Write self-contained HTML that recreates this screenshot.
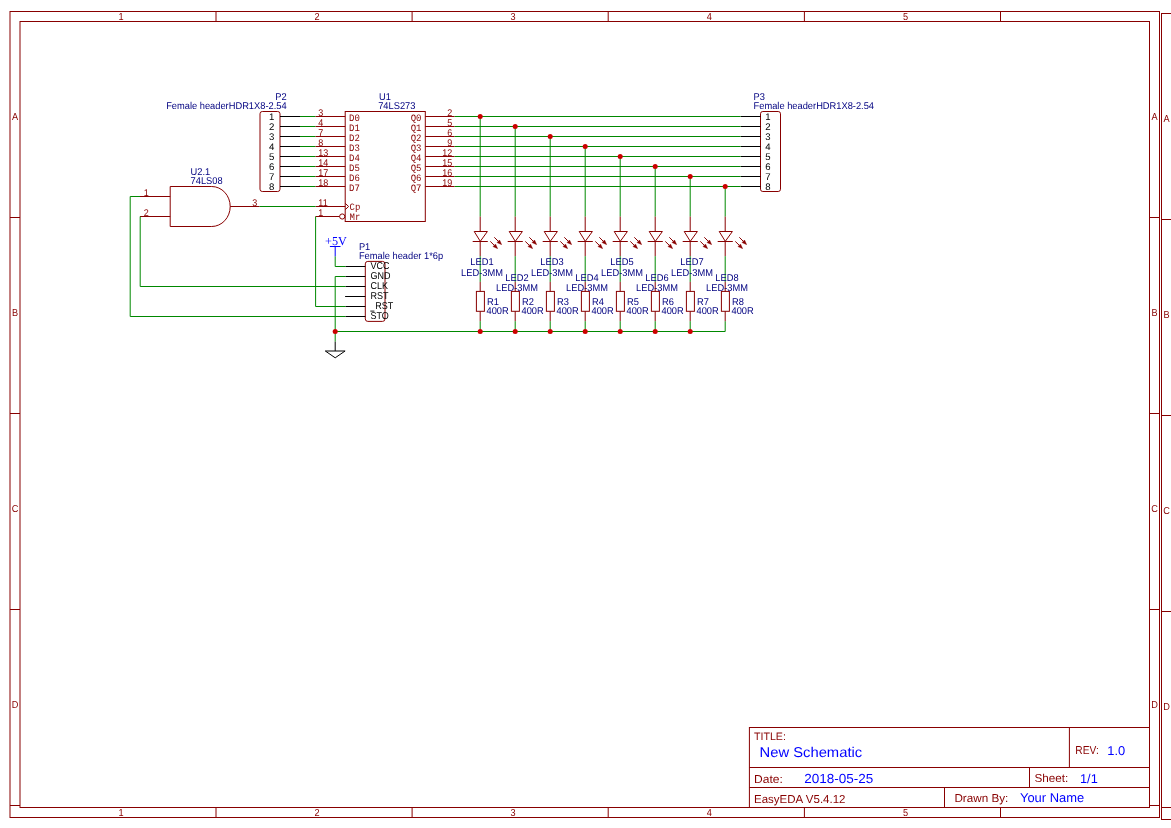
<!DOCTYPE html>
<html><head><meta charset="utf-8"><style>
html,body{margin:0;padding:0;background:#fff;}
svg{display:block;will-change:transform;} text{text-rendering:geometricPrecision;}
</style></head><body>
<svg width="1171" height="828" viewBox="0 0 1171 828">
<rect x="0" y="0" width="1171" height="828" fill="#ffffff"/>
<g transform="translate(0,0)">
<rect x="10" y="11.5" width="1149.5" height="806" fill="none" stroke="#880000" stroke-width="1"/>
<rect x="20" y="21.5" width="1129.5" height="786" fill="none" stroke="#880000" stroke-width="1"/>
<line x1="216.0" y1="11.5" x2="216.0" y2="21.5" stroke="#880000" stroke-width="1"/>
<line x1="216.0" y1="807.5" x2="216.0" y2="817.5" stroke="#880000" stroke-width="1"/>
<line x1="412.1" y1="11.5" x2="412.1" y2="21.5" stroke="#880000" stroke-width="1"/>
<line x1="412.1" y1="807.5" x2="412.1" y2="817.5" stroke="#880000" stroke-width="1"/>
<line x1="608.2" y1="11.5" x2="608.2" y2="21.5" stroke="#880000" stroke-width="1"/>
<line x1="608.2" y1="807.5" x2="608.2" y2="817.5" stroke="#880000" stroke-width="1"/>
<line x1="804.4" y1="11.5" x2="804.4" y2="21.5" stroke="#880000" stroke-width="1"/>
<line x1="804.4" y1="807.5" x2="804.4" y2="817.5" stroke="#880000" stroke-width="1"/>
<line x1="1000.5" y1="11.5" x2="1000.5" y2="21.5" stroke="#880000" stroke-width="1"/>
<line x1="1000.5" y1="807.5" x2="1000.5" y2="817.5" stroke="#880000" stroke-width="1"/>
<line x1="10" y1="217.5" x2="20" y2="217.5" stroke="#880000" stroke-width="1"/>
<line x1="1149.5" y1="217.5" x2="1159.5" y2="217.5" stroke="#880000" stroke-width="1"/>
<line x1="10" y1="413.5" x2="20" y2="413.5" stroke="#880000" stroke-width="1"/>
<line x1="1149.5" y1="413.5" x2="1159.5" y2="413.5" stroke="#880000" stroke-width="1"/>
<line x1="10" y1="609.5" x2="20" y2="609.5" stroke="#880000" stroke-width="1"/>
<line x1="1149.5" y1="609.5" x2="1159.5" y2="609.5" stroke="#880000" stroke-width="1"/>
<line x1="10" y1="805.5" x2="20" y2="805.5" stroke="#880000" stroke-width="1"/>
<line x1="1149.5" y1="805.5" x2="1159.5" y2="805.5" stroke="#880000" stroke-width="1"/>
<text x="121" y="19.7" font-family="Liberation Sans" font-size="9.2" fill="#880000" text-anchor="middle" transform="matrix(1,0,0,1.1,0,-1.970)">1</text>
<text x="121" y="815.7" font-family="Liberation Sans" font-size="9.2" fill="#880000" text-anchor="middle" transform="matrix(1,0,0,1.1,0,-81.570)">1</text>
<text x="317.05" y="19.7" font-family="Liberation Sans" font-size="9.2" fill="#880000" text-anchor="middle" transform="matrix(1,0,0,1.1,0,-1.970)">2</text>
<text x="317.05" y="815.7" font-family="Liberation Sans" font-size="9.2" fill="#880000" text-anchor="middle" transform="matrix(1,0,0,1.1,0,-81.570)">2</text>
<text x="513.15" y="19.7" font-family="Liberation Sans" font-size="9.2" fill="#880000" text-anchor="middle" transform="matrix(1,0,0,1.1,0,-1.970)">3</text>
<text x="513.15" y="815.7" font-family="Liberation Sans" font-size="9.2" fill="#880000" text-anchor="middle" transform="matrix(1,0,0,1.1,0,-81.570)">3</text>
<text x="709.3" y="19.7" font-family="Liberation Sans" font-size="9.2" fill="#880000" text-anchor="middle" transform="matrix(1,0,0,1.1,0,-1.970)">4</text>
<text x="709.3" y="815.7" font-family="Liberation Sans" font-size="9.2" fill="#880000" text-anchor="middle" transform="matrix(1,0,0,1.1,0,-81.570)">4</text>
<text x="905.45" y="19.7" font-family="Liberation Sans" font-size="9.2" fill="#880000" text-anchor="middle" transform="matrix(1,0,0,1.1,0,-1.970)">5</text>
<text x="905.45" y="815.7" font-family="Liberation Sans" font-size="9.2" fill="#880000" text-anchor="middle" transform="matrix(1,0,0,1.1,0,-81.570)">5</text>
<text x="15" y="119.5" font-family="Liberation Sans" font-size="9.2" fill="#880000" text-anchor="middle" transform="matrix(1,0,0,1.1,0,-11.950)">A</text>
<text x="1154.5" y="119.5" font-family="Liberation Sans" font-size="9.2" fill="#880000" text-anchor="middle" transform="matrix(1,0,0,1.1,0,-11.950)">A</text>
<text x="15" y="315.5" font-family="Liberation Sans" font-size="9.2" fill="#880000" text-anchor="middle" transform="matrix(1,0,0,1.1,0,-31.550)">B</text>
<text x="1154.5" y="315.5" font-family="Liberation Sans" font-size="9.2" fill="#880000" text-anchor="middle" transform="matrix(1,0,0,1.1,0,-31.550)">B</text>
<text x="15" y="511.5" font-family="Liberation Sans" font-size="9.2" fill="#880000" text-anchor="middle" transform="matrix(1,0,0,1.1,0,-51.150)">C</text>
<text x="1154.5" y="511.5" font-family="Liberation Sans" font-size="9.2" fill="#880000" text-anchor="middle" transform="matrix(1,0,0,1.1,0,-51.150)">C</text>
<text x="15" y="707.5" font-family="Liberation Sans" font-size="9.2" fill="#880000" text-anchor="middle" transform="matrix(1,0,0,1.1,0,-70.750)">D</text>
<text x="1154.5" y="707.5" font-family="Liberation Sans" font-size="9.2" fill="#880000" text-anchor="middle" transform="matrix(1,0,0,1.1,0,-70.750)">D</text>
</g>
<g transform="translate(1151.5,2)">
<rect x="10" y="11.5" width="1149.5" height="806" fill="none" stroke="#880000" stroke-width="1"/>
<rect x="20" y="21.5" width="1129.5" height="786" fill="none" stroke="#880000" stroke-width="1"/>
<line x1="216.0" y1="11.5" x2="216.0" y2="21.5" stroke="#880000" stroke-width="1"/>
<line x1="216.0" y1="807.5" x2="216.0" y2="817.5" stroke="#880000" stroke-width="1"/>
<line x1="412.1" y1="11.5" x2="412.1" y2="21.5" stroke="#880000" stroke-width="1"/>
<line x1="412.1" y1="807.5" x2="412.1" y2="817.5" stroke="#880000" stroke-width="1"/>
<line x1="608.2" y1="11.5" x2="608.2" y2="21.5" stroke="#880000" stroke-width="1"/>
<line x1="608.2" y1="807.5" x2="608.2" y2="817.5" stroke="#880000" stroke-width="1"/>
<line x1="804.4" y1="11.5" x2="804.4" y2="21.5" stroke="#880000" stroke-width="1"/>
<line x1="804.4" y1="807.5" x2="804.4" y2="817.5" stroke="#880000" stroke-width="1"/>
<line x1="1000.5" y1="11.5" x2="1000.5" y2="21.5" stroke="#880000" stroke-width="1"/>
<line x1="1000.5" y1="807.5" x2="1000.5" y2="817.5" stroke="#880000" stroke-width="1"/>
<line x1="10" y1="217.5" x2="20" y2="217.5" stroke="#880000" stroke-width="1"/>
<line x1="1149.5" y1="217.5" x2="1159.5" y2="217.5" stroke="#880000" stroke-width="1"/>
<line x1="10" y1="413.5" x2="20" y2="413.5" stroke="#880000" stroke-width="1"/>
<line x1="1149.5" y1="413.5" x2="1159.5" y2="413.5" stroke="#880000" stroke-width="1"/>
<line x1="10" y1="609.5" x2="20" y2="609.5" stroke="#880000" stroke-width="1"/>
<line x1="1149.5" y1="609.5" x2="1159.5" y2="609.5" stroke="#880000" stroke-width="1"/>
<line x1="10" y1="805.5" x2="20" y2="805.5" stroke="#880000" stroke-width="1"/>
<line x1="1149.5" y1="805.5" x2="1159.5" y2="805.5" stroke="#880000" stroke-width="1"/>
<text x="121" y="19.7" font-family="Liberation Sans" font-size="9.2" fill="#880000" text-anchor="middle" transform="matrix(1,0,0,1.1,0,-1.970)">1</text>
<text x="121" y="815.7" font-family="Liberation Sans" font-size="9.2" fill="#880000" text-anchor="middle" transform="matrix(1,0,0,1.1,0,-81.570)">1</text>
<text x="317.05" y="19.7" font-family="Liberation Sans" font-size="9.2" fill="#880000" text-anchor="middle" transform="matrix(1,0,0,1.1,0,-1.970)">2</text>
<text x="317.05" y="815.7" font-family="Liberation Sans" font-size="9.2" fill="#880000" text-anchor="middle" transform="matrix(1,0,0,1.1,0,-81.570)">2</text>
<text x="513.15" y="19.7" font-family="Liberation Sans" font-size="9.2" fill="#880000" text-anchor="middle" transform="matrix(1,0,0,1.1,0,-1.970)">3</text>
<text x="513.15" y="815.7" font-family="Liberation Sans" font-size="9.2" fill="#880000" text-anchor="middle" transform="matrix(1,0,0,1.1,0,-81.570)">3</text>
<text x="709.3" y="19.7" font-family="Liberation Sans" font-size="9.2" fill="#880000" text-anchor="middle" transform="matrix(1,0,0,1.1,0,-1.970)">4</text>
<text x="709.3" y="815.7" font-family="Liberation Sans" font-size="9.2" fill="#880000" text-anchor="middle" transform="matrix(1,0,0,1.1,0,-81.570)">4</text>
<text x="905.45" y="19.7" font-family="Liberation Sans" font-size="9.2" fill="#880000" text-anchor="middle" transform="matrix(1,0,0,1.1,0,-1.970)">5</text>
<text x="905.45" y="815.7" font-family="Liberation Sans" font-size="9.2" fill="#880000" text-anchor="middle" transform="matrix(1,0,0,1.1,0,-81.570)">5</text>
<text x="15" y="119.5" font-family="Liberation Sans" font-size="9.2" fill="#880000" text-anchor="middle" transform="matrix(1,0,0,1.1,0,-11.950)">A</text>
<text x="1154.5" y="119.5" font-family="Liberation Sans" font-size="9.2" fill="#880000" text-anchor="middle" transform="matrix(1,0,0,1.1,0,-11.950)">A</text>
<text x="15" y="315.5" font-family="Liberation Sans" font-size="9.2" fill="#880000" text-anchor="middle" transform="matrix(1,0,0,1.1,0,-31.550)">B</text>
<text x="1154.5" y="315.5" font-family="Liberation Sans" font-size="9.2" fill="#880000" text-anchor="middle" transform="matrix(1,0,0,1.1,0,-31.550)">B</text>
<text x="15" y="511.5" font-family="Liberation Sans" font-size="9.2" fill="#880000" text-anchor="middle" transform="matrix(1,0,0,1.1,0,-51.150)">C</text>
<text x="1154.5" y="511.5" font-family="Liberation Sans" font-size="9.2" fill="#880000" text-anchor="middle" transform="matrix(1,0,0,1.1,0,-51.150)">C</text>
<text x="15" y="707.5" font-family="Liberation Sans" font-size="9.2" fill="#880000" text-anchor="middle" transform="matrix(1,0,0,1.1,0,-70.750)">D</text>
<text x="1154.5" y="707.5" font-family="Liberation Sans" font-size="9.2" fill="#880000" text-anchor="middle" transform="matrix(1,0,0,1.1,0,-70.750)">D</text>
</g>
<rect x="749.4" y="727.5" width="400.1" height="80" fill="none" stroke="#880000" stroke-width="1"/>
<line x1="749.4" y1="767.5" x2="1149.5" y2="767.5" stroke="#880000" stroke-width="1"/>
<line x1="749.4" y1="787.5" x2="1149.5" y2="787.5" stroke="#880000" stroke-width="1"/>
<line x1="1069.4" y1="727.5" x2="1069.4" y2="767.5" stroke="#880000" stroke-width="1"/>
<line x1="1029.5" y1="767.5" x2="1029.5" y2="787.5" stroke="#880000" stroke-width="1"/>
<line x1="944.5" y1="787.5" x2="944.5" y2="807.5" stroke="#880000" stroke-width="1"/>
<text x="754.0" y="739.5" font-family="Liberation Sans" font-size="10.3" fill="#880000" text-anchor="start" textLength="31.9" lengthAdjust="spacingAndGlyphs" transform="matrix(1,0,0,1.05,0,-36.975)">TITLE:</text>
<text x="759.5" y="757.3" font-family="Liberation Sans" font-size="13.5" fill="#0000ff" text-anchor="start" textLength="102.7" lengthAdjust="spacingAndGlyphs" transform="matrix(1,0,0,1.05,0,-37.865)">New Schematic</text>
<text x="1075.3" y="753.9" font-family="Liberation Sans" font-size="11" fill="#880000" text-anchor="start" textLength="23.5" lengthAdjust="spacingAndGlyphs" transform="matrix(1,0,0,1.05,0,-37.695)">REV:</text>
<text x="1107.2" y="754.6" font-family="Liberation Sans" font-size="12.3" fill="#0000ff" text-anchor="start" textLength="18.0" lengthAdjust="spacingAndGlyphs" transform="matrix(1,0,0,1.05,0,-37.730)">1.0</text>
<text x="754.0" y="782.6" font-family="Liberation Sans" font-size="11" fill="#880000" text-anchor="start" textLength="28.8" lengthAdjust="spacingAndGlyphs" transform="matrix(1,0,0,1.05,0,-39.130)">Date:</text>
<text x="804.2" y="782.6" font-family="Liberation Sans" font-size="12.6" fill="#0000ff" text-anchor="start" textLength="69.2" lengthAdjust="spacingAndGlyphs" transform="matrix(1,0,0,1.05,0,-39.130)">2018-05-25</text>
<text x="1034.4" y="782.3" font-family="Liberation Sans" font-size="11" fill="#880000" text-anchor="start" textLength="33.9" lengthAdjust="spacingAndGlyphs" transform="matrix(1,0,0,1.05,0,-39.115)">Sheet:</text>
<text x="1080.0" y="782.9" font-family="Liberation Sans" font-size="12.3" fill="#0000ff" text-anchor="start" textLength="17.8" lengthAdjust="spacingAndGlyphs" transform="matrix(1,0,0,1.05,0,-39.145)">1/1</text>
<text x="754.0" y="802.7" font-family="Liberation Sans" font-size="11" fill="#880000" text-anchor="start" textLength="91.5" lengthAdjust="spacingAndGlyphs" transform="matrix(1,0,0,1.05,0,-40.135)">EasyEDA V5.4.12</text>
<text x="954.4" y="802.2" font-family="Liberation Sans" font-size="11" fill="#880000" text-anchor="start" textLength="54.0" lengthAdjust="spacingAndGlyphs" transform="matrix(1,0,0,1.05,0,-40.110)">Drawn By:</text>
<text x="1020.0" y="802.2" font-family="Liberation Sans" font-size="12.3" fill="#0000ff" text-anchor="start" textLength="64.2" lengthAdjust="spacingAndGlyphs" transform="matrix(1,0,0,1.05,0,-40.110)">Your Name</text>
<rect x="260" y="111.5" width="20" height="80" rx="2.3" ry="2.3" fill="none" stroke="#880000" stroke-width="1"/>
<line x1="280" y1="116.5" x2="300" y2="116.5" stroke="#000000" stroke-width="1"/>
<line x1="300" y1="116.5" x2="315.6" y2="116.5" stroke="#008800" stroke-width="1"/>
<text x="274.3" y="119.7" font-family="Liberation Sans" font-size="9.6" fill="#000000" text-anchor="end">1</text>
<line x1="280" y1="126.5" x2="300" y2="126.5" stroke="#000000" stroke-width="1"/>
<line x1="300" y1="126.5" x2="315.6" y2="126.5" stroke="#008800" stroke-width="1"/>
<text x="274.3" y="129.7" font-family="Liberation Sans" font-size="9.6" fill="#000000" text-anchor="end">2</text>
<line x1="280" y1="136.5" x2="300" y2="136.5" stroke="#000000" stroke-width="1"/>
<line x1="300" y1="136.5" x2="315.6" y2="136.5" stroke="#008800" stroke-width="1"/>
<text x="274.3" y="139.7" font-family="Liberation Sans" font-size="9.6" fill="#000000" text-anchor="end">3</text>
<line x1="280" y1="146.5" x2="300" y2="146.5" stroke="#000000" stroke-width="1"/>
<line x1="300" y1="146.5" x2="315.6" y2="146.5" stroke="#008800" stroke-width="1"/>
<text x="274.3" y="149.7" font-family="Liberation Sans" font-size="9.6" fill="#000000" text-anchor="end">4</text>
<line x1="280" y1="156.5" x2="300" y2="156.5" stroke="#000000" stroke-width="1"/>
<line x1="300" y1="156.5" x2="315.6" y2="156.5" stroke="#008800" stroke-width="1"/>
<text x="274.3" y="159.7" font-family="Liberation Sans" font-size="9.6" fill="#000000" text-anchor="end">5</text>
<line x1="280" y1="166.5" x2="300" y2="166.5" stroke="#000000" stroke-width="1"/>
<line x1="300" y1="166.5" x2="315.6" y2="166.5" stroke="#008800" stroke-width="1"/>
<text x="274.3" y="169.7" font-family="Liberation Sans" font-size="9.6" fill="#000000" text-anchor="end">6</text>
<line x1="280" y1="176.5" x2="300" y2="176.5" stroke="#000000" stroke-width="1"/>
<line x1="300" y1="176.5" x2="315.6" y2="176.5" stroke="#008800" stroke-width="1"/>
<text x="274.3" y="179.7" font-family="Liberation Sans" font-size="9.6" fill="#000000" text-anchor="end">7</text>
<line x1="280" y1="186.5" x2="300" y2="186.5" stroke="#000000" stroke-width="1"/>
<line x1="300" y1="186.5" x2="315.6" y2="186.5" stroke="#008800" stroke-width="1"/>
<text x="274.3" y="189.7" font-family="Liberation Sans" font-size="9.6" fill="#000000" text-anchor="end">8</text>
<text x="286.6" y="99.7" font-family="Liberation Sans" font-size="9.3" fill="#000080" text-anchor="end" transform="matrix(1,0,0,1.06,0,-5.982)">P2</text>
<text x="286.6" y="109.0" font-family="Liberation Sans" font-size="9.3" fill="#000080" text-anchor="end" transform="matrix(1,0,0,1.06,0,-6.540)">Female headerHDR1X8-2.54</text>
<rect x="760.5" y="111.5" width="20" height="80" rx="2.3" ry="2.3" fill="none" stroke="#880000" stroke-width="1"/>
<line x1="740.6" y1="116.5" x2="760.5" y2="116.5" stroke="#000000" stroke-width="1"/>
<text x="765.3" y="119.7" font-family="Liberation Sans" font-size="9.6" fill="#000000" text-anchor="start">1</text>
<line x1="740.6" y1="126.5" x2="760.5" y2="126.5" stroke="#000000" stroke-width="1"/>
<text x="765.3" y="129.7" font-family="Liberation Sans" font-size="9.6" fill="#000000" text-anchor="start">2</text>
<line x1="740.6" y1="136.5" x2="760.5" y2="136.5" stroke="#000000" stroke-width="1"/>
<text x="765.3" y="139.7" font-family="Liberation Sans" font-size="9.6" fill="#000000" text-anchor="start">3</text>
<line x1="740.6" y1="146.5" x2="760.5" y2="146.5" stroke="#000000" stroke-width="1"/>
<text x="765.3" y="149.7" font-family="Liberation Sans" font-size="9.6" fill="#000000" text-anchor="start">4</text>
<line x1="740.6" y1="156.5" x2="760.5" y2="156.5" stroke="#000000" stroke-width="1"/>
<text x="765.3" y="159.7" font-family="Liberation Sans" font-size="9.6" fill="#000000" text-anchor="start">5</text>
<line x1="740.6" y1="166.5" x2="760.5" y2="166.5" stroke="#000000" stroke-width="1"/>
<text x="765.3" y="169.7" font-family="Liberation Sans" font-size="9.6" fill="#000000" text-anchor="start">6</text>
<line x1="740.6" y1="176.5" x2="760.5" y2="176.5" stroke="#000000" stroke-width="1"/>
<text x="765.3" y="179.7" font-family="Liberation Sans" font-size="9.6" fill="#000000" text-anchor="start">7</text>
<line x1="740.6" y1="186.5" x2="760.5" y2="186.5" stroke="#000000" stroke-width="1"/>
<text x="765.3" y="189.7" font-family="Liberation Sans" font-size="9.6" fill="#000000" text-anchor="start">8</text>
<text x="753.6" y="99.7" font-family="Liberation Sans" font-size="9.3" fill="#000080" text-anchor="start" transform="matrix(1,0,0,1.06,0,-5.982)">P3</text>
<text x="753.6" y="109.0" font-family="Liberation Sans" font-size="9.3" fill="#000080" text-anchor="start" transform="matrix(1,0,0,1.06,0,-6.540)">Female headerHDR1X8-2.54</text>
<rect x="345.2" y="111.5" width="80.1" height="110" fill="none" stroke="#880000" stroke-width="1"/>
<line x1="315.6" y1="116.5" x2="345.2" y2="116.5" stroke="#880000" stroke-width="1"/>
<text x="318.3" y="115.9" font-family="Liberation Sans" font-size="9.0" fill="#880000" text-anchor="start" transform="matrix(1,0,0,1.08,0,-9.272)">3</text>
<text x="349.0" y="120.7" font-family="Liberation Mono" font-size="9" fill="#880000" text-anchor="start" transform="matrix(1,0,0,1.1,0,-12.070)">D0</text>
<line x1="425.3" y1="116.5" x2="454.7" y2="116.5" stroke="#880000" stroke-width="1"/>
<text x="452.2" y="115.9" font-family="Liberation Sans" font-size="9.0" fill="#880000" text-anchor="end" transform="matrix(1,0,0,1.08,0,-9.272)">2</text>
<text x="421.5" y="120.7" font-family="Liberation Mono" font-size="9" fill="#880000" text-anchor="end" transform="matrix(1,0,0,1.1,0,-12.070)">Q0</text>
<line x1="454.7" y1="116.5" x2="740.6" y2="116.5" stroke="#008800" stroke-width="1"/>
<line x1="315.6" y1="126.5" x2="345.2" y2="126.5" stroke="#880000" stroke-width="1"/>
<text x="318.3" y="125.9" font-family="Liberation Sans" font-size="9.0" fill="#880000" text-anchor="start" transform="matrix(1,0,0,1.08,0,-10.072)">4</text>
<text x="349.0" y="130.7" font-family="Liberation Mono" font-size="9" fill="#880000" text-anchor="start" transform="matrix(1,0,0,1.1,0,-13.070)">D1</text>
<line x1="425.3" y1="126.5" x2="454.7" y2="126.5" stroke="#880000" stroke-width="1"/>
<text x="452.2" y="125.9" font-family="Liberation Sans" font-size="9.0" fill="#880000" text-anchor="end" transform="matrix(1,0,0,1.08,0,-10.072)">5</text>
<text x="421.5" y="130.7" font-family="Liberation Mono" font-size="9" fill="#880000" text-anchor="end" transform="matrix(1,0,0,1.1,0,-13.070)">Q1</text>
<line x1="454.7" y1="126.5" x2="740.6" y2="126.5" stroke="#008800" stroke-width="1"/>
<line x1="315.6" y1="136.5" x2="345.2" y2="136.5" stroke="#880000" stroke-width="1"/>
<text x="318.3" y="135.9" font-family="Liberation Sans" font-size="9.0" fill="#880000" text-anchor="start" transform="matrix(1,0,0,1.08,0,-10.872)">7</text>
<text x="349.0" y="140.7" font-family="Liberation Mono" font-size="9" fill="#880000" text-anchor="start" transform="matrix(1,0,0,1.1,0,-14.070)">D2</text>
<line x1="425.3" y1="136.5" x2="454.7" y2="136.5" stroke="#880000" stroke-width="1"/>
<text x="452.2" y="135.9" font-family="Liberation Sans" font-size="9.0" fill="#880000" text-anchor="end" transform="matrix(1,0,0,1.08,0,-10.872)">6</text>
<text x="421.5" y="140.7" font-family="Liberation Mono" font-size="9" fill="#880000" text-anchor="end" transform="matrix(1,0,0,1.1,0,-14.070)">Q2</text>
<line x1="454.7" y1="136.5" x2="740.6" y2="136.5" stroke="#008800" stroke-width="1"/>
<line x1="315.6" y1="146.5" x2="345.2" y2="146.5" stroke="#880000" stroke-width="1"/>
<text x="318.3" y="145.9" font-family="Liberation Sans" font-size="9.0" fill="#880000" text-anchor="start" transform="matrix(1,0,0,1.08,0,-11.672)">8</text>
<text x="349.0" y="150.7" font-family="Liberation Mono" font-size="9" fill="#880000" text-anchor="start" transform="matrix(1,0,0,1.1,0,-15.070)">D3</text>
<line x1="425.3" y1="146.5" x2="454.7" y2="146.5" stroke="#880000" stroke-width="1"/>
<text x="452.2" y="145.9" font-family="Liberation Sans" font-size="9.0" fill="#880000" text-anchor="end" transform="matrix(1,0,0,1.08,0,-11.672)">9</text>
<text x="421.5" y="150.7" font-family="Liberation Mono" font-size="9" fill="#880000" text-anchor="end" transform="matrix(1,0,0,1.1,0,-15.070)">Q3</text>
<line x1="454.7" y1="146.5" x2="740.6" y2="146.5" stroke="#008800" stroke-width="1"/>
<line x1="315.6" y1="156.5" x2="345.2" y2="156.5" stroke="#880000" stroke-width="1"/>
<text x="318.3" y="155.9" font-family="Liberation Sans" font-size="9.0" fill="#880000" text-anchor="start" transform="matrix(1,0,0,1.08,0,-12.472)">13</text>
<text x="349.0" y="160.7" font-family="Liberation Mono" font-size="9" fill="#880000" text-anchor="start" transform="matrix(1,0,0,1.1,0,-16.070)">D4</text>
<line x1="425.3" y1="156.5" x2="454.7" y2="156.5" stroke="#880000" stroke-width="1"/>
<text x="452.2" y="155.9" font-family="Liberation Sans" font-size="9.0" fill="#880000" text-anchor="end" transform="matrix(1,0,0,1.08,0,-12.472)">12</text>
<text x="421.5" y="160.7" font-family="Liberation Mono" font-size="9" fill="#880000" text-anchor="end" transform="matrix(1,0,0,1.1,0,-16.070)">Q4</text>
<line x1="454.7" y1="156.5" x2="740.6" y2="156.5" stroke="#008800" stroke-width="1"/>
<line x1="315.6" y1="166.5" x2="345.2" y2="166.5" stroke="#880000" stroke-width="1"/>
<text x="318.3" y="165.9" font-family="Liberation Sans" font-size="9.0" fill="#880000" text-anchor="start" transform="matrix(1,0,0,1.08,0,-13.272)">14</text>
<text x="349.0" y="170.7" font-family="Liberation Mono" font-size="9" fill="#880000" text-anchor="start" transform="matrix(1,0,0,1.1,0,-17.070)">D5</text>
<line x1="425.3" y1="166.5" x2="454.7" y2="166.5" stroke="#880000" stroke-width="1"/>
<text x="452.2" y="165.9" font-family="Liberation Sans" font-size="9.0" fill="#880000" text-anchor="end" transform="matrix(1,0,0,1.08,0,-13.272)">15</text>
<text x="421.5" y="170.7" font-family="Liberation Mono" font-size="9" fill="#880000" text-anchor="end" transform="matrix(1,0,0,1.1,0,-17.070)">Q5</text>
<line x1="454.7" y1="166.5" x2="740.6" y2="166.5" stroke="#008800" stroke-width="1"/>
<line x1="315.6" y1="176.5" x2="345.2" y2="176.5" stroke="#880000" stroke-width="1"/>
<text x="318.3" y="175.9" font-family="Liberation Sans" font-size="9.0" fill="#880000" text-anchor="start" transform="matrix(1,0,0,1.08,0,-14.072)">17</text>
<text x="349.0" y="180.7" font-family="Liberation Mono" font-size="9" fill="#880000" text-anchor="start" transform="matrix(1,0,0,1.1,0,-18.070)">D6</text>
<line x1="425.3" y1="176.5" x2="454.7" y2="176.5" stroke="#880000" stroke-width="1"/>
<text x="452.2" y="175.9" font-family="Liberation Sans" font-size="9.0" fill="#880000" text-anchor="end" transform="matrix(1,0,0,1.08,0,-14.072)">16</text>
<text x="421.5" y="180.7" font-family="Liberation Mono" font-size="9" fill="#880000" text-anchor="end" transform="matrix(1,0,0,1.1,0,-18.070)">Q6</text>
<line x1="454.7" y1="176.5" x2="740.6" y2="176.5" stroke="#008800" stroke-width="1"/>
<line x1="315.6" y1="186.5" x2="345.2" y2="186.5" stroke="#880000" stroke-width="1"/>
<text x="318.3" y="185.9" font-family="Liberation Sans" font-size="9.0" fill="#880000" text-anchor="start" transform="matrix(1,0,0,1.08,0,-14.872)">18</text>
<text x="349.0" y="190.7" font-family="Liberation Mono" font-size="9" fill="#880000" text-anchor="start" transform="matrix(1,0,0,1.1,0,-19.070)">D7</text>
<line x1="425.3" y1="186.5" x2="454.7" y2="186.5" stroke="#880000" stroke-width="1"/>
<text x="452.2" y="185.9" font-family="Liberation Sans" font-size="9.0" fill="#880000" text-anchor="end" transform="matrix(1,0,0,1.08,0,-14.872)">19</text>
<text x="421.5" y="190.7" font-family="Liberation Mono" font-size="9" fill="#880000" text-anchor="end" transform="matrix(1,0,0,1.1,0,-19.070)">Q7</text>
<line x1="454.7" y1="186.5" x2="740.6" y2="186.5" stroke="#008800" stroke-width="1"/>
<line x1="315.6" y1="206.5" x2="345.2" y2="206.5" stroke="#880000" stroke-width="1"/>
<polyline points="345.2,203.3 348.6,206.5 345.2,209.7" fill="none" stroke="#880000" stroke-width="1"/>
<text x="318.3" y="205.9" font-family="Liberation Sans" font-size="9.0" fill="#880000" text-anchor="start" transform="matrix(1,0,0,1.08,0,-16.472)">11</text>
<text x="349.5" y="210.2" font-family="Liberation Mono" font-size="9" fill="#880000" text-anchor="start" transform="matrix(1,0,0,1.1,0,-21.020)">Cp</text>
<line x1="315.6" y1="216.5" x2="339.6" y2="216.5" stroke="#880000" stroke-width="1"/>
<circle cx="342.2" cy="216.5" r="2.6" fill="none" stroke="#880000" stroke-width="1"/>
<text x="318.3" y="215.9" font-family="Liberation Sans" font-size="9.0" fill="#880000" text-anchor="start" transform="matrix(1,0,0,1.08,0,-17.272)">1</text>
<text x="349.5" y="220.2" font-family="Liberation Mono" font-size="9" fill="#880000" text-anchor="start" transform="matrix(1,0,0,1.1,0,-22.020)">Mr</text>
<text x="379.0" y="99.7" font-family="Liberation Sans" font-size="9.3" fill="#000080" text-anchor="start" transform="matrix(1,0,0,1.06,0,-5.982)">U1</text>
<text x="378.2" y="108.9" font-family="Liberation Sans" font-size="9.3" fill="#000080" text-anchor="start" transform="matrix(1,0,0,1.06,0,-6.534)">74LS273</text>
<path d="M170.2,186.5 H211.7 A18.5,20 0 0 1 211.7,226.5 H170.2 Z" fill="none" stroke="#880000" stroke-width="1"/>
<line x1="140" y1="196.5" x2="170.2" y2="196.5" stroke="#880000" stroke-width="1"/>
<line x1="140" y1="216.5" x2="170.2" y2="216.5" stroke="#880000" stroke-width="1"/>
<line x1="230.2" y1="206.5" x2="259.6" y2="206.5" stroke="#880000" stroke-width="1"/>
<text x="143.8" y="196.0" font-family="Liberation Sans" font-size="9.0" fill="#880000" text-anchor="start" transform="matrix(1,0,0,1.08,0,-15.680)">1</text>
<text x="143.8" y="216.0" font-family="Liberation Sans" font-size="9.0" fill="#880000" text-anchor="start" transform="matrix(1,0,0,1.08,0,-17.280)">2</text>
<text x="257.2" y="205.9" font-family="Liberation Sans" font-size="9.0" fill="#880000" text-anchor="end" transform="matrix(1,0,0,1.08,0,-16.472)">3</text>
<text x="190.6" y="174.9" font-family="Liberation Sans" font-size="9.3" fill="#000080" text-anchor="start" transform="matrix(1,0,0,1.06,0,-10.494)">U2.1</text>
<text x="190.6" y="184.2" font-family="Liberation Sans" font-size="9.3" fill="#000080" text-anchor="start" transform="matrix(1,0,0,1.06,0,-11.052)">74LS08</text>
<line x1="259.6" y1="206.5" x2="315.6" y2="206.5" stroke="#008800" stroke-width="1"/>
<polyline points="140,196.5 130.2,196.5 130.2,316.5 345.6,316.5" fill="none" stroke="#008800" stroke-width="1"/>
<polyline points="140.2,216.5 140.2,286.5 345.6,286.5" fill="none" stroke="#008800" stroke-width="1"/>
<polyline points="315.6,216.5 315.6,306.5 345.6,306.5" fill="none" stroke="#008800" stroke-width="1"/>
<polyline points="335.2,256.3 335.2,266.5 345.6,266.5" fill="none" stroke="#008800" stroke-width="1"/>
<polyline points="345.6,276.5 335.2,276.5 335.2,341.7" fill="none" stroke="#008800" stroke-width="1"/>
<polyline points="335.2,331.5 725.2,331.5 725.2,321.2" fill="none" stroke="#008800" stroke-width="1"/>
<line x1="329.9" y1="246.5" x2="340.5" y2="246.5" stroke="#0000ff" stroke-width="1"/>
<line x1="335.2" y1="246.5" x2="335.2" y2="256.3" stroke="#0000ff" stroke-width="1"/>
<text x="325.1" y="244.7" font-family="Liberation Serif" font-size="12.2" fill="#0000ff" text-anchor="start">+5V</text>
<line x1="335.2" y1="341.7" x2="335.2" y2="351" stroke="#000000" stroke-width="1"/>
<polygon points="325.3,351 345.1,351 335.2,357.8" fill="none" stroke="#000000" stroke-width="1"/>
<rect x="365.3" y="261.4" width="19.7" height="60" rx="2.5" ry="2.5" fill="none" stroke="#880000" stroke-width="1"/>
<line x1="345.6" y1="266.5" x2="365.3" y2="266.5" stroke="#000000" stroke-width="1"/>
<text x="370.4" y="269.3" font-family="Liberation Sans" font-size="9.0" fill="#000000" text-anchor="start" transform="matrix(1,0,0,1.1,0,-26.930)">VCC</text>
<line x1="345.6" y1="276.5" x2="365.3" y2="276.5" stroke="#000000" stroke-width="1"/>
<text x="370.4" y="279.3" font-family="Liberation Sans" font-size="9.0" fill="#000000" text-anchor="start" transform="matrix(1,0,0,1.1,0,-27.930)">GND</text>
<line x1="345.6" y1="286.5" x2="365.3" y2="286.5" stroke="#000000" stroke-width="1"/>
<text x="370.4" y="289.3" font-family="Liberation Sans" font-size="9.0" fill="#000000" text-anchor="start" transform="matrix(1,0,0,1.1,0,-28.930)">CLK</text>
<line x1="345.1" y1="296.5" x2="365.3" y2="296.5" stroke="#000000" stroke-width="1"/>
<text x="370.4" y="299.3" font-family="Liberation Sans" font-size="9.0" fill="#000000" text-anchor="start" transform="matrix(1,0,0,1.1,0,-29.930)">RST</text>
<line x1="345.6" y1="306.5" x2="365.3" y2="306.5" stroke="#000000" stroke-width="1"/>
<text x="375.3" y="309.3" font-family="Liberation Sans" font-size="9.0" fill="#000000" text-anchor="start" transform="matrix(1,0,0,1.1,0,-30.930)">RST</text>
<line x1="345.6" y1="316.5" x2="365.3" y2="316.5" stroke="#000000" stroke-width="1"/>
<text x="370.4" y="319.3" font-family="Liberation Sans" font-size="9.0" fill="#000000" text-anchor="start" transform="matrix(1,0,0,1.1,0,-31.930)">STO</text>
<line x1="370.3" y1="311.1" x2="374.4" y2="311.1" stroke="#000000" stroke-width="0.9"/>
<text x="358.9" y="250.1" font-family="Liberation Sans" font-size="9.3" fill="#000080" text-anchor="start" transform="matrix(1,0,0,1.06,0,-15.006)">P1</text>
<text x="358.9" y="258.9" font-family="Liberation Sans" font-size="9.3" fill="#000080" text-anchor="start" transform="matrix(1,0,0,1.06,0,-15.534)">Female header 1*6p</text>
<line x1="480.2" y1="116.5" x2="480.2" y2="216.6" stroke="#008800" stroke-width="1"/>
<line x1="480.2" y1="216.6" x2="480.2" y2="231.5" stroke="#880000" stroke-width="1"/>
<polygon points="474.2,231.5 487.4,231.5 480.3,241.3" fill="none" stroke="#880000" stroke-width="1"/>
<line x1="472.7" y1="241.5" x2="487.8" y2="241.5" stroke="#880000" stroke-width="1"/>
<line x1="480.2" y1="241.5" x2="480.2" y2="256.2" stroke="#880000" stroke-width="1"/>
<line x1="494.3" y1="237.3" x2="498.3180194846605" y2="241.31801948466054" stroke="#880000" stroke-width="1"/>
<polygon points="501.50,244.50 497.12,242.52 499.52,240.12" fill="#880000" stroke="#880000" stroke-width="0.6"/>
<line x1="490.3" y1="241.4" x2="494.2958462167067" y2="245.34034835258578" stroke="#880000" stroke-width="1"/>
<polygon points="497.50,248.50 493.10,246.55 495.49,244.13" fill="#880000" stroke="#880000" stroke-width="0.6"/>
<line x1="480.2" y1="256.2" x2="480.2" y2="281.9" stroke="#008800" stroke-width="1"/>
<line x1="480.2" y1="281.9" x2="480.2" y2="291.5" stroke="#880000" stroke-width="1"/>
<rect x="476.4" y="291.4" width="8" height="19.9" fill="none" stroke="#880000" stroke-width="1"/>
<line x1="480.2" y1="311.2" x2="480.2" y2="321.2" stroke="#880000" stroke-width="1"/>
<line x1="480.2" y1="321.2" x2="480.2" y2="331.5" stroke="#008800" stroke-width="1"/>
<text x="482.0" y="265.1" font-family="Liberation Sans" font-size="9.3" fill="#000080" text-anchor="middle" transform="matrix(1,0,0,1.06,0,-15.906)">LED1</text>
<text x="482.0" y="275.5" font-family="Liberation Sans" font-size="9.3" fill="#000080" text-anchor="middle" transform="matrix(1,0,0,1.06,0,-16.530)">LED-3MM</text>
<text x="487.0" y="304.8" font-family="Liberation Sans" font-size="9.3" fill="#000080" text-anchor="start" transform="matrix(1,0,0,1.06,0,-18.288)">R1</text>
<text x="486.5" y="313.7" font-family="Liberation Sans" font-size="9.3" fill="#000080" text-anchor="start" transform="matrix(1,0,0,1.06,0,-18.822)">400R</text>
<line x1="515.2" y1="126.5" x2="515.2" y2="216.6" stroke="#008800" stroke-width="1"/>
<line x1="515.2" y1="216.6" x2="515.2" y2="231.5" stroke="#880000" stroke-width="1"/>
<polygon points="509.2,231.5 522.4,231.5 515.3,241.3" fill="none" stroke="#880000" stroke-width="1"/>
<line x1="507.70000000000005" y1="241.5" x2="522.8000000000001" y2="241.5" stroke="#880000" stroke-width="1"/>
<line x1="515.2" y1="241.5" x2="515.2" y2="256.2" stroke="#880000" stroke-width="1"/>
<line x1="529.3000000000001" y1="237.3" x2="533.3180194846606" y2="241.3180194846605" stroke="#880000" stroke-width="1"/>
<polygon points="536.50,244.50 532.12,242.52 534.52,240.12" fill="#880000" stroke="#880000" stroke-width="0.6"/>
<line x1="525.3000000000001" y1="241.4" x2="529.2958462167068" y2="245.34034835258578" stroke="#880000" stroke-width="1"/>
<polygon points="532.50,248.50 528.10,246.55 530.49,244.13" fill="#880000" stroke="#880000" stroke-width="0.6"/>
<line x1="515.2" y1="256.2" x2="515.2" y2="281.9" stroke="#008800" stroke-width="1"/>
<line x1="515.2" y1="281.9" x2="515.2" y2="291.5" stroke="#880000" stroke-width="1"/>
<rect x="511.4" y="291.4" width="8" height="19.9" fill="none" stroke="#880000" stroke-width="1"/>
<line x1="515.2" y1="311.2" x2="515.2" y2="321.2" stroke="#880000" stroke-width="1"/>
<line x1="515.2" y1="321.2" x2="515.2" y2="331.5" stroke="#008800" stroke-width="1"/>
<text x="517.0" y="281.0" font-family="Liberation Sans" font-size="9.3" fill="#000080" text-anchor="middle" transform="matrix(1,0,0,1.06,0,-16.860)">LED2</text>
<text x="517.0" y="291.4" font-family="Liberation Sans" font-size="9.3" fill="#000080" text-anchor="middle" transform="matrix(1,0,0,1.06,0,-17.484)">LED-3MM</text>
<text x="522.0" y="304.8" font-family="Liberation Sans" font-size="9.3" fill="#000080" text-anchor="start" transform="matrix(1,0,0,1.06,0,-18.288)">R2</text>
<text x="521.5" y="313.7" font-family="Liberation Sans" font-size="9.3" fill="#000080" text-anchor="start" transform="matrix(1,0,0,1.06,0,-18.822)">400R</text>
<line x1="550.2" y1="136.5" x2="550.2" y2="216.6" stroke="#008800" stroke-width="1"/>
<line x1="550.2" y1="216.6" x2="550.2" y2="231.5" stroke="#880000" stroke-width="1"/>
<polygon points="544.2,231.5 557.4,231.5 550.3,241.3" fill="none" stroke="#880000" stroke-width="1"/>
<line x1="542.7" y1="241.5" x2="557.8000000000001" y2="241.5" stroke="#880000" stroke-width="1"/>
<line x1="550.2" y1="241.5" x2="550.2" y2="256.2" stroke="#880000" stroke-width="1"/>
<line x1="564.3000000000001" y1="237.3" x2="568.3180194846606" y2="241.3180194846605" stroke="#880000" stroke-width="1"/>
<polygon points="571.50,244.50 567.12,242.52 569.52,240.12" fill="#880000" stroke="#880000" stroke-width="0.6"/>
<line x1="560.3000000000001" y1="241.4" x2="564.2958462167068" y2="245.34034835258578" stroke="#880000" stroke-width="1"/>
<polygon points="567.50,248.50 563.10,246.55 565.49,244.13" fill="#880000" stroke="#880000" stroke-width="0.6"/>
<line x1="550.2" y1="256.2" x2="550.2" y2="281.9" stroke="#008800" stroke-width="1"/>
<line x1="550.2" y1="281.9" x2="550.2" y2="291.5" stroke="#880000" stroke-width="1"/>
<rect x="546.4" y="291.4" width="8" height="19.9" fill="none" stroke="#880000" stroke-width="1"/>
<line x1="550.2" y1="311.2" x2="550.2" y2="321.2" stroke="#880000" stroke-width="1"/>
<line x1="550.2" y1="321.2" x2="550.2" y2="331.5" stroke="#008800" stroke-width="1"/>
<text x="552.0" y="265.1" font-family="Liberation Sans" font-size="9.3" fill="#000080" text-anchor="middle" transform="matrix(1,0,0,1.06,0,-15.906)">LED3</text>
<text x="552.0" y="275.5" font-family="Liberation Sans" font-size="9.3" fill="#000080" text-anchor="middle" transform="matrix(1,0,0,1.06,0,-16.530)">LED-3MM</text>
<text x="557.0" y="304.8" font-family="Liberation Sans" font-size="9.3" fill="#000080" text-anchor="start" transform="matrix(1,0,0,1.06,0,-18.288)">R3</text>
<text x="556.5" y="313.7" font-family="Liberation Sans" font-size="9.3" fill="#000080" text-anchor="start" transform="matrix(1,0,0,1.06,0,-18.822)">400R</text>
<line x1="585.2" y1="146.5" x2="585.2" y2="216.6" stroke="#008800" stroke-width="1"/>
<line x1="585.2" y1="216.6" x2="585.2" y2="231.5" stroke="#880000" stroke-width="1"/>
<polygon points="579.2,231.5 592.4,231.5 585.3,241.3" fill="none" stroke="#880000" stroke-width="1"/>
<line x1="577.7" y1="241.5" x2="592.8000000000001" y2="241.5" stroke="#880000" stroke-width="1"/>
<line x1="585.2" y1="241.5" x2="585.2" y2="256.2" stroke="#880000" stroke-width="1"/>
<line x1="599.3000000000001" y1="237.3" x2="603.3180194846606" y2="241.3180194846605" stroke="#880000" stroke-width="1"/>
<polygon points="606.50,244.50 602.12,242.52 604.52,240.12" fill="#880000" stroke="#880000" stroke-width="0.6"/>
<line x1="595.3000000000001" y1="241.4" x2="599.2958462167068" y2="245.34034835258578" stroke="#880000" stroke-width="1"/>
<polygon points="602.50,248.50 598.10,246.55 600.49,244.13" fill="#880000" stroke="#880000" stroke-width="0.6"/>
<line x1="585.2" y1="256.2" x2="585.2" y2="281.9" stroke="#008800" stroke-width="1"/>
<line x1="585.2" y1="281.9" x2="585.2" y2="291.5" stroke="#880000" stroke-width="1"/>
<rect x="581.4" y="291.4" width="8" height="19.9" fill="none" stroke="#880000" stroke-width="1"/>
<line x1="585.2" y1="311.2" x2="585.2" y2="321.2" stroke="#880000" stroke-width="1"/>
<line x1="585.2" y1="321.2" x2="585.2" y2="331.5" stroke="#008800" stroke-width="1"/>
<text x="587.0" y="281.0" font-family="Liberation Sans" font-size="9.3" fill="#000080" text-anchor="middle" transform="matrix(1,0,0,1.06,0,-16.860)">LED4</text>
<text x="587.0" y="291.4" font-family="Liberation Sans" font-size="9.3" fill="#000080" text-anchor="middle" transform="matrix(1,0,0,1.06,0,-17.484)">LED-3MM</text>
<text x="592.0" y="304.8" font-family="Liberation Sans" font-size="9.3" fill="#000080" text-anchor="start" transform="matrix(1,0,0,1.06,0,-18.288)">R4</text>
<text x="591.5" y="313.7" font-family="Liberation Sans" font-size="9.3" fill="#000080" text-anchor="start" transform="matrix(1,0,0,1.06,0,-18.822)">400R</text>
<line x1="620.2" y1="156.5" x2="620.2" y2="216.6" stroke="#008800" stroke-width="1"/>
<line x1="620.2" y1="216.6" x2="620.2" y2="231.5" stroke="#880000" stroke-width="1"/>
<polygon points="614.2,231.5 627.4,231.5 620.3,241.3" fill="none" stroke="#880000" stroke-width="1"/>
<line x1="612.7" y1="241.5" x2="627.8000000000001" y2="241.5" stroke="#880000" stroke-width="1"/>
<line x1="620.2" y1="241.5" x2="620.2" y2="256.2" stroke="#880000" stroke-width="1"/>
<line x1="634.3000000000001" y1="237.3" x2="638.3180194846606" y2="241.3180194846605" stroke="#880000" stroke-width="1"/>
<polygon points="641.50,244.50 637.12,242.52 639.52,240.12" fill="#880000" stroke="#880000" stroke-width="0.6"/>
<line x1="630.3000000000001" y1="241.4" x2="634.2958462167068" y2="245.34034835258578" stroke="#880000" stroke-width="1"/>
<polygon points="637.50,248.50 633.10,246.55 635.49,244.13" fill="#880000" stroke="#880000" stroke-width="0.6"/>
<line x1="620.2" y1="256.2" x2="620.2" y2="281.9" stroke="#008800" stroke-width="1"/>
<line x1="620.2" y1="281.9" x2="620.2" y2="291.5" stroke="#880000" stroke-width="1"/>
<rect x="616.4" y="291.4" width="8" height="19.9" fill="none" stroke="#880000" stroke-width="1"/>
<line x1="620.2" y1="311.2" x2="620.2" y2="321.2" stroke="#880000" stroke-width="1"/>
<line x1="620.2" y1="321.2" x2="620.2" y2="331.5" stroke="#008800" stroke-width="1"/>
<text x="622.0" y="265.1" font-family="Liberation Sans" font-size="9.3" fill="#000080" text-anchor="middle" transform="matrix(1,0,0,1.06,0,-15.906)">LED5</text>
<text x="622.0" y="275.5" font-family="Liberation Sans" font-size="9.3" fill="#000080" text-anchor="middle" transform="matrix(1,0,0,1.06,0,-16.530)">LED-3MM</text>
<text x="627.0" y="304.8" font-family="Liberation Sans" font-size="9.3" fill="#000080" text-anchor="start" transform="matrix(1,0,0,1.06,0,-18.288)">R5</text>
<text x="626.5" y="313.7" font-family="Liberation Sans" font-size="9.3" fill="#000080" text-anchor="start" transform="matrix(1,0,0,1.06,0,-18.822)">400R</text>
<line x1="655.2" y1="166.5" x2="655.2" y2="216.6" stroke="#008800" stroke-width="1"/>
<line x1="655.2" y1="216.6" x2="655.2" y2="231.5" stroke="#880000" stroke-width="1"/>
<polygon points="649.2,231.5 662.4,231.5 655.3,241.3" fill="none" stroke="#880000" stroke-width="1"/>
<line x1="647.7" y1="241.5" x2="662.8000000000001" y2="241.5" stroke="#880000" stroke-width="1"/>
<line x1="655.2" y1="241.5" x2="655.2" y2="256.2" stroke="#880000" stroke-width="1"/>
<line x1="669.3000000000001" y1="237.3" x2="673.3180194846606" y2="241.3180194846605" stroke="#880000" stroke-width="1"/>
<polygon points="676.50,244.50 672.12,242.52 674.52,240.12" fill="#880000" stroke="#880000" stroke-width="0.6"/>
<line x1="665.3000000000001" y1="241.4" x2="669.2958462167068" y2="245.34034835258578" stroke="#880000" stroke-width="1"/>
<polygon points="672.50,248.50 668.10,246.55 670.49,244.13" fill="#880000" stroke="#880000" stroke-width="0.6"/>
<line x1="655.2" y1="256.2" x2="655.2" y2="281.9" stroke="#008800" stroke-width="1"/>
<line x1="655.2" y1="281.9" x2="655.2" y2="291.5" stroke="#880000" stroke-width="1"/>
<rect x="651.4" y="291.4" width="8" height="19.9" fill="none" stroke="#880000" stroke-width="1"/>
<line x1="655.2" y1="311.2" x2="655.2" y2="321.2" stroke="#880000" stroke-width="1"/>
<line x1="655.2" y1="321.2" x2="655.2" y2="331.5" stroke="#008800" stroke-width="1"/>
<text x="657.0" y="281.0" font-family="Liberation Sans" font-size="9.3" fill="#000080" text-anchor="middle" transform="matrix(1,0,0,1.06,0,-16.860)">LED6</text>
<text x="657.0" y="291.4" font-family="Liberation Sans" font-size="9.3" fill="#000080" text-anchor="middle" transform="matrix(1,0,0,1.06,0,-17.484)">LED-3MM</text>
<text x="662.0" y="304.8" font-family="Liberation Sans" font-size="9.3" fill="#000080" text-anchor="start" transform="matrix(1,0,0,1.06,0,-18.288)">R6</text>
<text x="661.5" y="313.7" font-family="Liberation Sans" font-size="9.3" fill="#000080" text-anchor="start" transform="matrix(1,0,0,1.06,0,-18.822)">400R</text>
<line x1="690.2" y1="176.5" x2="690.2" y2="216.6" stroke="#008800" stroke-width="1"/>
<line x1="690.2" y1="216.6" x2="690.2" y2="231.5" stroke="#880000" stroke-width="1"/>
<polygon points="684.2,231.5 697.4,231.5 690.3,241.3" fill="none" stroke="#880000" stroke-width="1"/>
<line x1="682.7" y1="241.5" x2="697.8000000000001" y2="241.5" stroke="#880000" stroke-width="1"/>
<line x1="690.2" y1="241.5" x2="690.2" y2="256.2" stroke="#880000" stroke-width="1"/>
<line x1="704.3000000000001" y1="237.3" x2="708.3180194846606" y2="241.3180194846605" stroke="#880000" stroke-width="1"/>
<polygon points="711.50,244.50 707.12,242.52 709.52,240.12" fill="#880000" stroke="#880000" stroke-width="0.6"/>
<line x1="700.3000000000001" y1="241.4" x2="704.2958462167068" y2="245.34034835258578" stroke="#880000" stroke-width="1"/>
<polygon points="707.50,248.50 703.10,246.55 705.49,244.13" fill="#880000" stroke="#880000" stroke-width="0.6"/>
<line x1="690.2" y1="256.2" x2="690.2" y2="281.9" stroke="#008800" stroke-width="1"/>
<line x1="690.2" y1="281.9" x2="690.2" y2="291.5" stroke="#880000" stroke-width="1"/>
<rect x="686.4" y="291.4" width="8" height="19.9" fill="none" stroke="#880000" stroke-width="1"/>
<line x1="690.2" y1="311.2" x2="690.2" y2="321.2" stroke="#880000" stroke-width="1"/>
<line x1="690.2" y1="321.2" x2="690.2" y2="331.5" stroke="#008800" stroke-width="1"/>
<text x="692.0" y="265.1" font-family="Liberation Sans" font-size="9.3" fill="#000080" text-anchor="middle" transform="matrix(1,0,0,1.06,0,-15.906)">LED7</text>
<text x="692.0" y="275.5" font-family="Liberation Sans" font-size="9.3" fill="#000080" text-anchor="middle" transform="matrix(1,0,0,1.06,0,-16.530)">LED-3MM</text>
<text x="697.0" y="304.8" font-family="Liberation Sans" font-size="9.3" fill="#000080" text-anchor="start" transform="matrix(1,0,0,1.06,0,-18.288)">R7</text>
<text x="696.5" y="313.7" font-family="Liberation Sans" font-size="9.3" fill="#000080" text-anchor="start" transform="matrix(1,0,0,1.06,0,-18.822)">400R</text>
<line x1="725.2" y1="186.5" x2="725.2" y2="216.6" stroke="#008800" stroke-width="1"/>
<line x1="725.2" y1="216.6" x2="725.2" y2="231.5" stroke="#880000" stroke-width="1"/>
<polygon points="719.2,231.5 732.4,231.5 725.3,241.3" fill="none" stroke="#880000" stroke-width="1"/>
<line x1="717.7" y1="241.5" x2="732.8000000000001" y2="241.5" stroke="#880000" stroke-width="1"/>
<line x1="725.2" y1="241.5" x2="725.2" y2="256.2" stroke="#880000" stroke-width="1"/>
<line x1="739.3000000000001" y1="237.3" x2="743.3180194846606" y2="241.3180194846605" stroke="#880000" stroke-width="1"/>
<polygon points="746.50,244.50 742.12,242.52 744.52,240.12" fill="#880000" stroke="#880000" stroke-width="0.6"/>
<line x1="735.3000000000001" y1="241.4" x2="739.2958462167068" y2="245.34034835258578" stroke="#880000" stroke-width="1"/>
<polygon points="742.50,248.50 738.10,246.55 740.49,244.13" fill="#880000" stroke="#880000" stroke-width="0.6"/>
<line x1="725.2" y1="256.2" x2="725.2" y2="281.9" stroke="#008800" stroke-width="1"/>
<line x1="725.2" y1="281.9" x2="725.2" y2="291.5" stroke="#880000" stroke-width="1"/>
<rect x="721.4" y="291.4" width="8" height="19.9" fill="none" stroke="#880000" stroke-width="1"/>
<line x1="725.2" y1="311.2" x2="725.2" y2="321.2" stroke="#880000" stroke-width="1"/>
<text x="727.0" y="281.0" font-family="Liberation Sans" font-size="9.3" fill="#000080" text-anchor="middle" transform="matrix(1,0,0,1.06,0,-16.860)">LED8</text>
<text x="727.0" y="291.4" font-family="Liberation Sans" font-size="9.3" fill="#000080" text-anchor="middle" transform="matrix(1,0,0,1.06,0,-17.484)">LED-3MM</text>
<text x="732.0" y="304.8" font-family="Liberation Sans" font-size="9.3" fill="#000080" text-anchor="start" transform="matrix(1,0,0,1.06,0,-18.288)">R8</text>
<text x="731.5" y="313.7" font-family="Liberation Sans" font-size="9.3" fill="#000080" text-anchor="start" transform="matrix(1,0,0,1.06,0,-18.822)">400R</text>
<circle cx="480.2" cy="116.5" r="2.5" fill="#cc0000"/>
<circle cx="480.2" cy="331.5" r="2.5" fill="#cc0000"/>
<circle cx="515.2" cy="126.5" r="2.5" fill="#cc0000"/>
<circle cx="515.2" cy="331.5" r="2.5" fill="#cc0000"/>
<circle cx="550.2" cy="136.5" r="2.5" fill="#cc0000"/>
<circle cx="550.2" cy="331.5" r="2.5" fill="#cc0000"/>
<circle cx="585.2" cy="146.5" r="2.5" fill="#cc0000"/>
<circle cx="585.2" cy="331.5" r="2.5" fill="#cc0000"/>
<circle cx="620.2" cy="156.5" r="2.5" fill="#cc0000"/>
<circle cx="620.2" cy="331.5" r="2.5" fill="#cc0000"/>
<circle cx="655.2" cy="166.5" r="2.5" fill="#cc0000"/>
<circle cx="655.2" cy="331.5" r="2.5" fill="#cc0000"/>
<circle cx="690.2" cy="176.5" r="2.5" fill="#cc0000"/>
<circle cx="690.2" cy="331.5" r="2.5" fill="#cc0000"/>
<circle cx="725.2" cy="186.5" r="2.5" fill="#cc0000"/>
<circle cx="335.2" cy="331.5" r="2.5" fill="#cc0000"/>
</svg>
</body></html>
